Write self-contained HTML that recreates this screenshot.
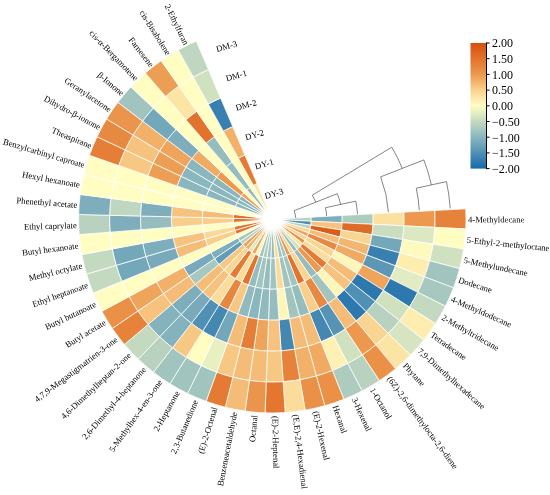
<!DOCTYPE html>
<html><head><meta charset="utf-8"><title>Circular heatmap</title>
<style>html,body{margin:0;padding:0;background:#fff}svg{display:block}</style>
</head><body>
<svg width="550" height="495" viewBox="0 0 550 495">
<rect width="550" height="495" fill="#fff"/>
<g stroke="#fff" stroke-width="0.75" stroke-linejoin="round">
<path d="M280.29 218.87L311.19 217.19A38.95 38.95 0 0 1 311.2 221.24L280.29 219.7A8 8 0 0 0 280.29 218.87Z" fill="#b9d2c0"/>
<path d="M311.19 217.19L342.1 215.52A69.9 69.9 0 0 1 342.11 222.78L311.2 221.24A38.95 38.95 0 0 0 311.19 217.19Z" fill="#7eaebc"/>
<path d="M342.1 215.52L373 213.85A100.85 100.85 0 0 1 373.03 224.32L342.11 222.78A69.9 69.9 0 0 0 342.1 215.52Z" fill="#adcbbf"/>
<path d="M373 213.85L403.91 212.17A131.8 131.8 0 0 1 403.94 225.86L373.03 224.32A100.85 100.85 0 0 0 373 213.85Z" fill="#fce0a0"/>
<path d="M403.91 212.17L434.81 210.5A162.75 162.75 0 0 1 434.85 227.4L403.94 225.86A131.8 131.8 0 0 0 403.91 212.17Z" fill="#ec984e"/>
<path d="M434.81 210.5L465.72 208.82A193.7 193.7 0 0 1 465.76 228.94L434.85 227.4A162.75 162.75 0 0 0 434.81 210.5Z" fill="#e6823a"/>
<path d="M280.29 219.7L311.2 221.24A38.95 38.95 0 0 1 310.79 225.26L280.21 220.52A8 8 0 0 0 280.29 219.7Z" fill="#5090b4"/>
<path d="M311.2 221.24L342.11 222.78A69.9 69.9 0 0 1 341.38 230L310.79 225.26A38.95 38.95 0 0 0 311.2 221.24Z" fill="#f6c27d"/>
<path d="M342.11 222.78L373.03 224.32A100.85 100.85 0 0 1 371.96 234.74L341.38 230A69.9 69.9 0 0 0 342.11 222.78Z" fill="#df6c26"/>
<path d="M373.03 224.32L403.94 225.86A131.8 131.8 0 0 1 402.55 239.47L371.96 234.74A100.85 100.85 0 0 0 373.03 224.32Z" fill="#caddc0"/>
<path d="M403.94 225.86L434.85 227.4A162.75 162.75 0 0 1 433.13 244.21L402.55 239.47A131.8 131.8 0 0 0 403.94 225.86Z" fill="#dce8c1"/>
<path d="M434.85 227.4L465.76 228.94A193.7 193.7 0 0 1 463.72 248.95L433.13 244.21A162.75 162.75 0 0 0 434.85 227.4Z" fill="#fffdc2"/>
<path d="M280.21 220.52L310.79 225.26A38.95 38.95 0 0 1 309.97 229.22L280.04 221.34A8 8 0 0 0 280.21 220.52Z" fill="#b9d2c0"/>
<path d="M310.79 225.26L341.38 230A69.9 69.9 0 0 1 339.89 237.11L309.97 229.22A38.95 38.95 0 0 0 310.79 225.26Z" fill="#db5d19"/>
<path d="M341.38 230L371.96 234.74A100.85 100.85 0 0 1 369.82 244.99L339.89 237.11A69.9 69.9 0 0 0 341.38 230Z" fill="#fad491"/>
<path d="M371.96 234.74L402.55 239.47A131.8 131.8 0 0 1 399.75 252.87L369.82 244.99A100.85 100.85 0 0 0 371.96 234.74Z" fill="#73a7ba"/>
<path d="M402.55 239.47L433.13 244.21A162.75 162.75 0 0 1 429.68 260.76L399.75 252.87A131.8 131.8 0 0 0 402.55 239.47Z" fill="#fef9bd"/>
<path d="M433.13 244.21L463.72 248.95A193.7 193.7 0 0 1 459.61 268.64L429.68 260.76A162.75 162.75 0 0 0 433.13 244.21Z" fill="#d0e1c0"/>
<path d="M280.04 221.34L309.97 229.22A38.95 38.95 0 0 1 308.73 233.07L279.78 222.13A8 8 0 0 0 280.04 221.34Z" fill="#fad491"/>
<path d="M309.97 229.22L339.89 237.11A69.9 69.9 0 0 1 337.68 244.02L308.73 233.07A38.95 38.95 0 0 0 309.97 229.22Z" fill="#f4bc76"/>
<path d="M339.89 237.11L369.82 244.99A100.85 100.85 0 0 1 366.63 254.96L337.68 244.02A69.9 69.9 0 0 0 339.89 237.11Z" fill="#f3b670"/>
<path d="M369.82 244.99L399.75 252.87A131.8 131.8 0 0 1 395.58 265.91L366.63 254.96A100.85 100.85 0 0 0 369.82 244.99Z" fill="#3980b0"/>
<path d="M399.75 252.87L429.68 260.76A162.75 162.75 0 0 1 424.53 276.85L395.58 265.91A131.8 131.8 0 0 0 399.75 252.87Z" fill="#fdedae"/>
<path d="M429.68 260.76L459.61 268.64A193.7 193.7 0 0 1 453.48 287.8L424.53 276.85A162.75 162.75 0 0 0 429.68 260.76Z" fill="#a1c4bf"/>
<path d="M279.78 222.13L308.73 233.07A38.95 38.95 0 0 1 307.11 236.78L279.45 222.89A8 8 0 0 0 279.78 222.13Z" fill="#efa45b"/>
<path d="M308.73 233.07L337.68 244.02A69.9 69.9 0 0 1 334.77 250.67L307.11 236.78A38.95 38.95 0 0 0 308.73 233.07Z" fill="#e88941"/>
<path d="M337.68 244.02L366.63 254.96A100.85 100.85 0 0 1 362.43 264.55L334.77 250.67A69.9 69.9 0 0 0 337.68 244.02Z" fill="#f0aa62"/>
<path d="M366.63 254.96L395.58 265.91A131.8 131.8 0 0 1 390.09 278.44L362.43 264.55A100.85 100.85 0 0 0 366.63 254.96Z" fill="#5c97b6"/>
<path d="M395.58 265.91L424.53 276.85A162.75 162.75 0 0 1 417.74 292.33L390.09 278.44A131.8 131.8 0 0 0 395.58 265.91Z" fill="#e2ebc1"/>
<path d="M424.53 276.85L453.48 287.8A193.7 193.7 0 0 1 445.4 306.22L417.74 292.33A162.75 162.75 0 0 0 424.53 276.85Z" fill="#a7c8bf"/>
<path d="M279.45 222.89L307.11 236.78A38.95 38.95 0 0 1 305.11 240.29L279.04 223.61A8 8 0 0 0 279.45 222.89Z" fill="#fad491"/>
<path d="M307.11 236.78L334.77 250.67A69.9 69.9 0 0 1 331.18 256.97L305.11 240.29A38.95 38.95 0 0 0 307.11 236.78Z" fill="#fad491"/>
<path d="M334.77 250.67L362.43 264.55A100.85 100.85 0 0 1 357.25 273.66L331.18 256.97A69.9 69.9 0 0 0 334.77 250.67Z" fill="#fef5b8"/>
<path d="M362.43 264.55L390.09 278.44A131.8 131.8 0 0 1 383.32 290.34L357.25 273.66A100.85 100.85 0 0 0 362.43 264.55Z" fill="#efa45b"/>
<path d="M390.09 278.44L417.74 292.33A162.75 162.75 0 0 1 409.39 307.02L383.32 290.34A131.8 131.8 0 0 0 390.09 278.44Z" fill="#2d78ae"/>
<path d="M417.74 292.33L445.4 306.22A193.7 193.7 0 0 1 435.46 323.7L409.39 307.02A162.75 162.75 0 0 0 417.74 292.33Z" fill="#c4dac0"/>
<path d="M279.04 223.61L305.11 240.29A38.95 38.95 0 0 1 302.75 243.58L278.56 224.29A8 8 0 0 0 279.04 223.61Z" fill="#ea9147"/>
<path d="M305.11 240.29L331.18 256.97A69.9 69.9 0 0 1 326.95 262.88L302.75 243.58A38.95 38.95 0 0 0 305.11 240.29Z" fill="#fbdc9b"/>
<path d="M331.18 256.97L357.25 273.66A100.85 100.85 0 0 1 351.15 282.17L326.95 262.88A69.9 69.9 0 0 0 331.18 256.97Z" fill="#f4bc76"/>
<path d="M357.25 273.66L383.32 290.34A131.8 131.8 0 0 1 375.35 301.47L351.15 282.17A100.85 100.85 0 0 0 357.25 273.66Z" fill="#2d78ae"/>
<path d="M383.32 290.34L409.39 307.02A162.75 162.75 0 0 1 399.55 320.76L375.35 301.47A131.8 131.8 0 0 0 383.32 290.34Z" fill="#d0e1c0"/>
<path d="M409.39 307.02L435.46 323.7A193.7 193.7 0 0 1 423.75 340.06L399.55 320.76A162.75 162.75 0 0 0 409.39 307.02Z" fill="#fdedae"/>
<path d="M278.56 224.29L302.75 243.58A38.95 38.95 0 0 1 300.07 246.61L278 224.91A8 8 0 0 0 278.56 224.29Z" fill="#fce4a5"/>
<path d="M302.75 243.58L326.95 262.88A69.9 69.9 0 0 1 322.14 268.31L300.07 246.61A38.95 38.95 0 0 0 302.75 243.58Z" fill="#e47a34"/>
<path d="M326.95 262.88L351.15 282.17A100.85 100.85 0 0 1 344.21 290.01L322.14 268.31A69.9 69.9 0 0 0 326.95 262.88Z" fill="#f6c27d"/>
<path d="M351.15 282.17L375.35 301.47A131.8 131.8 0 0 1 366.28 311.71L344.21 290.01A100.85 100.85 0 0 0 351.15 282.17Z" fill="#5090b4"/>
<path d="M375.35 301.47L399.55 320.76A162.75 162.75 0 0 1 388.34 333.41L366.28 311.71A131.8 131.8 0 0 0 375.35 301.47Z" fill="#b9d2c0"/>
<path d="M399.55 320.76L423.75 340.06A193.7 193.7 0 0 1 410.41 355.11L388.34 333.41A162.75 162.75 0 0 0 399.55 320.76Z" fill="#d6e4c1"/>
<path d="M278 224.91L300.07 246.61A38.95 38.95 0 0 1 297.09 249.34L277.39 225.47A8 8 0 0 0 278 224.91Z" fill="#d0e1c0"/>
<path d="M300.07 246.61L322.14 268.31A69.9 69.9 0 0 1 316.79 273.21L297.09 249.34A38.95 38.95 0 0 0 300.07 246.61Z" fill="#ec984e"/>
<path d="M322.14 268.31L344.21 290.01A100.85 100.85 0 0 1 336.49 297.09L316.79 273.21A69.9 69.9 0 0 0 322.14 268.31Z" fill="#fef5b8"/>
<path d="M344.21 290.01L366.28 311.71A131.8 131.8 0 0 1 356.19 320.96L336.49 297.09A100.85 100.85 0 0 0 344.21 290.01Z" fill="#2d78ae"/>
<path d="M366.28 311.71L388.34 333.41A162.75 162.75 0 0 1 375.88 344.83L356.19 320.96A131.8 131.8 0 0 0 366.28 311.71Z" fill="#fad491"/>
<path d="M388.34 333.41L410.41 355.11A193.7 193.7 0 0 1 395.58 368.7L375.88 344.83A162.75 162.75 0 0 0 388.34 333.41Z" fill="#fce4a5"/>
<path d="M277.39 225.47L297.09 249.34A38.95 38.95 0 0 1 293.84 251.75L276.72 225.97A8 8 0 0 0 277.39 225.47Z" fill="#96bdbe"/>
<path d="M297.09 249.34L316.79 273.21A69.9 69.9 0 0 1 310.96 277.54L293.84 251.75A38.95 38.95 0 0 0 297.09 249.34Z" fill="#96bdbe"/>
<path d="M316.79 273.21L336.49 297.09A100.85 100.85 0 0 1 328.07 303.32L310.96 277.54A69.9 69.9 0 0 0 316.79 273.21Z" fill="#a1c4bf"/>
<path d="M336.49 297.09L356.19 320.96A131.8 131.8 0 0 1 345.19 329.11L328.07 303.32A100.85 100.85 0 0 0 336.49 297.09Z" fill="#f4bc76"/>
<path d="M356.19 320.96L375.88 344.83A162.75 162.75 0 0 1 362.31 354.9L345.19 329.11A131.8 131.8 0 0 0 356.19 320.96Z" fill="#ec984e"/>
<path d="M375.88 344.83L395.58 368.7A193.7 193.7 0 0 1 379.42 380.68L362.31 354.9A162.75 162.75 0 0 0 375.88 344.83Z" fill="#ea9147"/>
<path d="M276.72 225.97L293.84 251.75A38.95 38.95 0 0 1 290.36 253.81L276.01 226.39A8 8 0 0 0 276.72 225.97Z" fill="#fad491"/>
<path d="M293.84 251.75L310.96 277.54A69.9 69.9 0 0 1 304.71 281.23L290.36 253.81A38.95 38.95 0 0 0 293.84 251.75Z" fill="#fad491"/>
<path d="M310.96 277.54L328.07 303.32A100.85 100.85 0 0 1 319.06 308.65L304.71 281.23A69.9 69.9 0 0 0 310.96 277.54Z" fill="#e88941"/>
<path d="M328.07 303.32L345.19 329.11A131.8 131.8 0 0 1 333.41 336.08L319.06 308.65A100.85 100.85 0 0 0 328.07 303.32Z" fill="#5693b5"/>
<path d="M345.19 329.11L362.31 354.9A162.75 162.75 0 0 1 347.76 363.5L333.41 336.08A131.8 131.8 0 0 0 345.19 329.11Z" fill="#d0e1c0"/>
<path d="M362.31 354.9L379.42 380.68A193.7 193.7 0 0 1 362.11 390.92L347.76 363.5A162.75 162.75 0 0 0 362.31 354.9Z" fill="#b9d2c0"/>
<path d="M276.01 226.39L290.36 253.81A38.95 38.95 0 0 1 286.68 255.5L275.25 226.73A8 8 0 0 0 276.01 226.39Z" fill="#ec984e"/>
<path d="M290.36 253.81L304.71 281.23A69.9 69.9 0 0 1 298.11 284.26L286.68 255.5A38.95 38.95 0 0 0 290.36 253.81Z" fill="#e2732d"/>
<path d="M304.71 281.23L319.06 308.65A100.85 100.85 0 0 1 309.54 313.02L298.11 284.26A69.9 69.9 0 0 0 304.71 281.23Z" fill="#f9ce8a"/>
<path d="M319.06 308.65L333.41 336.08A131.8 131.8 0 0 1 320.97 341.78L309.54 313.02A100.85 100.85 0 0 0 319.06 308.65Z" fill="#4488b2"/>
<path d="M333.41 336.08L347.76 363.5A162.75 162.75 0 0 1 332.4 370.55L320.97 341.78A131.8 131.8 0 0 0 333.41 336.08Z" fill="#fef1b3"/>
<path d="M347.76 363.5L362.11 390.92A193.7 193.7 0 0 1 343.83 399.31L332.4 370.55A162.75 162.75 0 0 0 347.76 363.5Z" fill="#adcbbf"/>
<path d="M275.25 226.73L286.68 255.5A38.95 38.95 0 0 1 282.85 256.79L274.47 227A8 8 0 0 0 275.25 226.73Z" fill="#a1c4bf"/>
<path d="M286.68 255.5L298.11 284.26A69.9 69.9 0 0 1 291.24 286.59L282.85 256.79A38.95 38.95 0 0 0 286.68 255.5Z" fill="#a1c4bf"/>
<path d="M298.11 284.26L309.54 313.02A100.85 100.85 0 0 1 299.62 316.38L291.24 286.59A69.9 69.9 0 0 0 298.11 284.26Z" fill="#96bdbe"/>
<path d="M309.54 313.02L320.97 341.78A131.8 131.8 0 0 1 308.01 346.17L299.62 316.38A100.85 100.85 0 0 0 309.54 313.02Z" fill="#f4bc76"/>
<path d="M320.97 341.78L332.4 370.55A162.75 162.75 0 0 1 316.39 375.96L308.01 346.17A131.8 131.8 0 0 0 320.97 341.78Z" fill="#f0aa62"/>
<path d="M332.4 370.55L343.83 399.31A193.7 193.7 0 0 1 324.78 405.76L316.39 375.96A162.75 162.75 0 0 0 332.4 370.55Z" fill="#ea9147"/>
<path d="M274.47 227L282.85 256.79A38.95 38.95 0 0 1 278.91 257.69L273.66 227.18A8 8 0 0 0 274.47 227Z" fill="#a1c4bf"/>
<path d="M282.85 256.79L291.24 286.59A69.9 69.9 0 0 1 284.16 288.19L278.91 257.69A38.95 38.95 0 0 0 282.85 256.79Z" fill="#a1c4bf"/>
<path d="M291.24 286.59L299.62 316.38A100.85 100.85 0 0 1 289.41 318.69L284.16 288.19A69.9 69.9 0 0 0 291.24 286.59Z" fill="#a1c4bf"/>
<path d="M299.62 316.38L308.01 346.17A131.8 131.8 0 0 1 294.66 349.19L289.41 318.69A100.85 100.85 0 0 0 299.62 316.38Z" fill="#f4bc76"/>
<path d="M308.01 346.17L316.39 375.96A162.75 162.75 0 0 1 299.91 379.69L294.66 349.19A131.8 131.8 0 0 0 308.01 346.17Z" fill="#f2b069"/>
<path d="M316.39 375.96L324.78 405.76A193.7 193.7 0 0 1 305.16 410.19L299.91 379.69A162.75 162.75 0 0 0 316.39 375.96Z" fill="#ea9147"/>
<path d="M273.66 227.18L278.91 257.69A38.95 38.95 0 0 1 274.89 258.16L272.83 227.28A8 8 0 0 0 273.66 227.18Z" fill="#fbdc9b"/>
<path d="M278.91 257.69L284.16 288.19A69.9 69.9 0 0 1 276.95 289.05L274.89 258.16A38.95 38.95 0 0 0 278.91 257.69Z" fill="#fbdc9b"/>
<path d="M284.16 288.19L289.41 318.69A100.85 100.85 0 0 1 279.01 319.93L276.95 289.05A69.9 69.9 0 0 0 284.16 288.19Z" fill="#fef5b8"/>
<path d="M289.41 318.69L294.66 349.19A131.8 131.8 0 0 1 281.07 350.81L279.01 319.93A100.85 100.85 0 0 0 289.41 318.69Z" fill="#4488b2"/>
<path d="M294.66 349.19L299.91 379.69A162.75 162.75 0 0 1 283.13 381.69L281.07 350.81A131.8 131.8 0 0 0 294.66 349.19Z" fill="#e6823a"/>
<path d="M299.91 379.69L305.16 410.19A193.7 193.7 0 0 1 285.19 412.57L283.13 381.69A162.75 162.75 0 0 0 299.91 379.69Z" fill="#fbdc9b"/>
<path d="M272.83 227.28L274.89 258.16A38.95 38.95 0 0 1 270.85 258.22L272 227.29A8 8 0 0 0 272.83 227.28Z" fill="#96bdbe"/>
<path d="M274.89 258.16L276.95 289.05A69.9 69.9 0 0 1 269.69 289.15L270.85 258.22A38.95 38.95 0 0 0 274.89 258.16Z" fill="#a1c4bf"/>
<path d="M276.95 289.05L279.01 319.93A100.85 100.85 0 0 1 268.54 320.08L269.69 289.15A69.9 69.9 0 0 0 276.95 289.05Z" fill="#96bdbe"/>
<path d="M279.01 319.93L281.07 350.81A131.8 131.8 0 0 1 267.38 351.01L268.54 320.08A100.85 100.85 0 0 0 279.01 319.93Z" fill="#f6c27d"/>
<path d="M281.07 350.81L283.13 381.69A162.75 162.75 0 0 1 266.23 381.94L267.38 351.01A131.8 131.8 0 0 0 281.07 350.81Z" fill="#f7c884"/>
<path d="M283.13 381.69L285.19 412.57A193.7 193.7 0 0 1 265.07 412.87L266.23 381.94A162.75 162.75 0 0 0 283.13 381.69Z" fill="#e37730"/>
<path d="M272 227.29L270.85 258.22A38.95 38.95 0 0 1 266.82 257.86L271.17 227.22A8 8 0 0 0 272 227.29Z" fill="#a1c4bf"/>
<path d="M270.85 258.22L269.69 289.15A69.9 69.9 0 0 1 262.46 288.5L266.82 257.86A38.95 38.95 0 0 0 270.85 258.22Z" fill="#96bdbe"/>
<path d="M269.69 289.15L268.54 320.08A100.85 100.85 0 0 1 258.11 319.15L262.46 288.5A69.9 69.9 0 0 0 269.69 289.15Z" fill="#90babe"/>
<path d="M268.54 320.08L267.38 351.01A131.8 131.8 0 0 1 253.75 349.79L258.11 319.15A100.85 100.85 0 0 0 268.54 320.08Z" fill="#efa45b"/>
<path d="M267.38 351.01L266.23 381.94A162.75 162.75 0 0 1 249.4 380.43L253.75 349.79A131.8 131.8 0 0 0 267.38 351.01Z" fill="#f4bc76"/>
<path d="M266.23 381.94L265.07 412.87A193.7 193.7 0 0 1 245.04 411.07L249.4 380.43A162.75 162.75 0 0 0 266.23 381.94Z" fill="#eb944b"/>
<path d="M271.17 227.22L266.82 257.86A38.95 38.95 0 0 1 262.85 257.09L270.36 227.06A8 8 0 0 0 271.17 227.22Z" fill="#adcbbf"/>
<path d="M266.82 257.86L262.46 288.5A69.9 69.9 0 0 1 255.34 287.11L262.85 257.09A38.95 38.95 0 0 0 266.82 257.86Z" fill="#a1c4bf"/>
<path d="M262.46 288.5L258.11 319.15A100.85 100.85 0 0 1 247.83 317.14L255.34 287.11A69.9 69.9 0 0 0 262.46 288.5Z" fill="#8ab6be"/>
<path d="M258.11 319.15L253.75 349.79A131.8 131.8 0 0 1 240.32 347.16L247.83 317.14A100.85 100.85 0 0 0 258.11 319.15Z" fill="#e57e37"/>
<path d="M253.75 349.79L249.4 380.43A162.75 162.75 0 0 1 232.81 377.19L240.32 347.16A131.8 131.8 0 0 0 253.75 349.79Z" fill="#f4bc76"/>
<path d="M249.4 380.43L245.04 411.07A193.7 193.7 0 0 1 225.3 407.21L232.81 377.19A162.75 162.75 0 0 0 249.4 380.43Z" fill="#f4bc76"/>
<path d="M270.36 227.06L262.85 257.09A38.95 38.95 0 0 1 258.98 255.9L269.56 226.82A8 8 0 0 0 270.36 227.06Z" fill="#a1c4bf"/>
<path d="M262.85 257.09L255.34 287.11A69.9 69.9 0 0 1 248.4 284.99L258.98 255.9A38.95 38.95 0 0 0 262.85 257.09Z" fill="#96bdbe"/>
<path d="M255.34 287.11L247.83 317.14A100.85 100.85 0 0 1 237.82 314.07L248.4 284.99A69.9 69.9 0 0 0 255.34 287.11Z" fill="#90babe"/>
<path d="M247.83 317.14L240.32 347.16A131.8 131.8 0 0 1 227.23 343.16L237.82 314.07A100.85 100.85 0 0 0 247.83 317.14Z" fill="#f4bc76"/>
<path d="M240.32 347.16L232.81 377.19A162.75 162.75 0 0 1 216.65 372.24L227.23 343.16A131.8 131.8 0 0 0 240.32 347.16Z" fill="#f7c884"/>
<path d="M232.81 377.19L225.3 407.21A193.7 193.7 0 0 1 206.07 401.32L216.65 372.24A162.75 162.75 0 0 0 232.81 377.19Z" fill="#e47a34"/>
<path d="M269.56 226.82L258.98 255.9A38.95 38.95 0 0 1 255.26 254.32L268.8 226.49A8 8 0 0 0 269.56 226.82Z" fill="#fef5b8"/>
<path d="M258.98 255.9L248.4 284.99A69.9 69.9 0 0 1 241.72 282.15L255.26 254.32A38.95 38.95 0 0 0 258.98 255.9Z" fill="#e2732d"/>
<path d="M248.4 284.99L237.82 314.07A100.85 100.85 0 0 1 228.17 309.98L241.72 282.15A69.9 69.9 0 0 0 248.4 284.99Z" fill="#f7c884"/>
<path d="M237.82 314.07L227.23 343.16A131.8 131.8 0 0 1 214.63 337.81L228.17 309.98A100.85 100.85 0 0 0 237.82 314.07Z" fill="#73a7ba"/>
<path d="M227.23 343.16L216.65 372.24A162.75 162.75 0 0 1 201.09 365.64L214.63 337.81A131.8 131.8 0 0 0 227.23 343.16Z" fill="#e8efc1"/>
<path d="M216.65 372.24L206.07 401.32A193.7 193.7 0 0 1 187.55 393.47L201.09 365.64A162.75 162.75 0 0 0 216.65 372.24Z" fill="#a1c4bf"/>
<path d="M268.8 226.49L255.26 254.32A38.95 38.95 0 0 1 251.72 252.37L268.07 226.09A8 8 0 0 0 268.8 226.49Z" fill="#efa45b"/>
<path d="M255.26 254.32L241.72 282.15A69.9 69.9 0 0 1 235.36 278.64L251.72 252.37A38.95 38.95 0 0 0 255.26 254.32Z" fill="#fbdc9b"/>
<path d="M241.72 282.15L228.17 309.98A100.85 100.85 0 0 1 219.01 304.92L235.36 278.64A69.9 69.9 0 0 0 241.72 282.15Z" fill="#e7863e"/>
<path d="M228.17 309.98L214.63 337.81A131.8 131.8 0 0 1 202.65 331.19L219.01 304.92A100.85 100.85 0 0 0 228.17 309.98Z" fill="#4488b2"/>
<path d="M214.63 337.81L201.09 365.64A162.75 162.75 0 0 1 186.3 357.47L202.65 331.19A131.8 131.8 0 0 0 214.63 337.81Z" fill="#fffdc2"/>
<path d="M201.09 365.64L187.55 393.47A193.7 193.7 0 0 1 169.94 383.75L186.3 357.47A162.75 162.75 0 0 0 201.09 365.64Z" fill="#a1c4bf"/>
<path d="M268.07 226.09L251.72 252.37A38.95 38.95 0 0 1 248.4 250.05L267.39 225.62A8 8 0 0 0 268.07 226.09Z" fill="#dce8c1"/>
<path d="M251.72 252.37L235.36 278.64A69.9 69.9 0 0 1 229.41 274.49L248.4 250.05A38.95 38.95 0 0 0 251.72 252.37Z" fill="#e47a34"/>
<path d="M235.36 278.64L219.01 304.92A100.85 100.85 0 0 1 210.42 298.93L229.41 274.49A69.9 69.9 0 0 0 235.36 278.64Z" fill="#fbdc9b"/>
<path d="M219.01 304.92L202.65 331.19A131.8 131.8 0 0 1 191.42 323.37L210.42 298.93A100.85 100.85 0 0 0 219.01 304.92Z" fill="#5090b4"/>
<path d="M202.65 331.19L186.3 357.47A162.75 162.75 0 0 1 172.43 347.81L191.42 323.37A131.8 131.8 0 0 0 202.65 331.19Z" fill="#f7c884"/>
<path d="M186.3 357.47L169.94 383.75A193.7 193.7 0 0 1 153.44 372.24L172.43 347.81A162.75 162.75 0 0 0 186.3 357.47Z" fill="#a1c4bf"/>
<path d="M267.39 225.62L248.4 250.05A38.95 38.95 0 0 1 245.34 247.41L266.76 225.07A8 8 0 0 0 267.39 225.62Z" fill="#f2b069"/>
<path d="M248.4 250.05L229.41 274.49A69.9 69.9 0 0 1 223.91 269.75L245.34 247.41A38.95 38.95 0 0 0 248.4 250.05Z" fill="#fad491"/>
<path d="M229.41 274.49L210.42 298.93A100.85 100.85 0 0 1 202.49 292.08L223.91 269.75A69.9 69.9 0 0 0 229.41 274.49Z" fill="#f6c27d"/>
<path d="M210.42 298.93L191.42 323.37A131.8 131.8 0 0 1 181.07 314.42L202.49 292.08A100.85 100.85 0 0 0 210.42 298.93Z" fill="#79aabb"/>
<path d="M191.42 323.37L172.43 347.81A162.75 162.75 0 0 1 159.64 336.76L181.07 314.42A131.8 131.8 0 0 0 191.42 323.37Z" fill="#84b2bd"/>
<path d="M172.43 347.81L153.44 372.24A193.7 193.7 0 0 1 138.22 359.09L159.64 336.76A162.75 162.75 0 0 0 172.43 347.81Z" fill="#b9d2c0"/>
<path d="M266.76 225.07L245.34 247.41A38.95 38.95 0 0 1 242.57 244.46L266.19 224.47A8 8 0 0 0 266.76 225.07Z" fill="#efa45b"/>
<path d="M245.34 247.41L223.91 269.75A69.9 69.9 0 0 1 218.94 264.46L242.57 244.46A38.95 38.95 0 0 0 245.34 247.41Z" fill="#f7c884"/>
<path d="M223.91 269.75L202.49 292.08A100.85 100.85 0 0 1 195.32 284.45L218.94 264.46A69.9 69.9 0 0 0 223.91 269.75Z" fill="#f4bc76"/>
<path d="M202.49 292.08L181.07 314.42A131.8 131.8 0 0 1 171.7 304.45L195.32 284.45A100.85 100.85 0 0 0 202.49 292.08Z" fill="#7eaebc"/>
<path d="M181.07 314.42L159.64 336.76A162.75 162.75 0 0 1 148.07 324.44L171.7 304.45A131.8 131.8 0 0 0 181.07 314.42Z" fill="#84b2bd"/>
<path d="M159.64 336.76L138.22 359.09A193.7 193.7 0 0 1 124.45 344.44L148.07 324.44A162.75 162.75 0 0 0 159.64 336.76Z" fill="#c4dac0"/>
<path d="M266.19 224.47L242.57 244.46A38.95 38.95 0 0 1 240.12 241.24L265.69 223.81A8 8 0 0 0 266.19 224.47Z" fill="#b9d2c0"/>
<path d="M242.57 244.46L218.94 264.46A69.9 69.9 0 0 1 214.55 258.68L240.12 241.24A38.95 38.95 0 0 0 242.57 244.46Z" fill="#619bb7"/>
<path d="M218.94 264.46L195.32 284.45A100.85 100.85 0 0 1 188.98 276.12L214.55 258.68A69.9 69.9 0 0 0 218.94 264.46Z" fill="#a7c8bf"/>
<path d="M195.32 284.45L171.7 304.45A131.8 131.8 0 0 1 163.41 293.55L188.98 276.12A100.85 100.85 0 0 0 195.32 284.45Z" fill="#f4bc76"/>
<path d="M171.7 304.45L148.07 324.44A162.75 162.75 0 0 1 137.84 310.99L163.41 293.55A131.8 131.8 0 0 0 171.7 304.45Z" fill="#f6c27d"/>
<path d="M148.07 324.44L124.45 344.44A193.7 193.7 0 0 1 112.27 328.43L137.84 310.99A162.75 162.75 0 0 0 148.07 324.44Z" fill="#e6823a"/>
<path d="M265.69 223.81L240.12 241.24A38.95 38.95 0 0 1 238.02 237.79L265.26 223.1A8 8 0 0 0 265.69 223.81Z" fill="#a1c4bf"/>
<path d="M240.12 241.24L214.55 258.68A69.9 69.9 0 0 1 210.78 252.48L238.02 237.79A38.95 38.95 0 0 0 240.12 241.24Z" fill="#7eaebc"/>
<path d="M214.55 258.68L188.98 276.12A100.85 100.85 0 0 1 183.54 267.17L210.78 252.48A69.9 69.9 0 0 0 214.55 258.68Z" fill="#79aabb"/>
<path d="M188.98 276.12L163.41 293.55A131.8 131.8 0 0 1 156.29 281.86L183.54 267.17A100.85 100.85 0 0 0 188.98 276.12Z" fill="#f2b069"/>
<path d="M163.41 293.55L137.84 310.99A162.75 162.75 0 0 1 129.05 296.55L156.29 281.86A131.8 131.8 0 0 0 163.41 293.55Z" fill="#efa45b"/>
<path d="M137.84 310.99L112.27 328.43A193.7 193.7 0 0 1 101.81 311.24L129.05 296.55A162.75 162.75 0 0 0 137.84 310.99Z" fill="#ea9147"/>
<path d="M265.26 223.1L238.02 237.79A38.95 38.95 0 0 1 236.29 234.13L264.9 222.35A8 8 0 0 0 265.26 223.1Z" fill="#fffdc2"/>
<path d="M238.02 237.79L210.78 252.48A69.9 69.9 0 0 1 207.67 245.92L236.29 234.13A38.95 38.95 0 0 0 238.02 237.79Z" fill="#fffdc2"/>
<path d="M210.78 252.48L183.54 267.17A100.85 100.85 0 0 1 179.05 257.71L207.67 245.92A69.9 69.9 0 0 0 210.78 252.48Z" fill="#fffdc2"/>
<path d="M183.54 267.17L156.29 281.86A131.8 131.8 0 0 1 150.43 269.49L179.05 257.71A100.85 100.85 0 0 0 183.54 267.17Z" fill="#fffdc2"/>
<path d="M156.29 281.86L129.05 296.55A162.75 162.75 0 0 1 121.81 281.28L150.43 269.49A131.8 131.8 0 0 0 156.29 281.86Z" fill="#fffdc2"/>
<path d="M129.05 296.55L101.81 311.24A193.7 193.7 0 0 1 93.2 293.07L121.81 281.28A162.75 162.75 0 0 0 129.05 296.55Z" fill="#fffdc2"/>
<path d="M264.9 222.35L236.29 234.13A38.95 38.95 0 0 1 234.94 230.32L264.63 221.56A8 8 0 0 0 264.9 222.35Z" fill="#e2732d"/>
<path d="M236.29 234.13L207.67 245.92A69.9 69.9 0 0 1 205.26 239.07L234.94 230.32A38.95 38.95 0 0 0 236.29 234.13Z" fill="#f9ce8a"/>
<path d="M207.67 245.92L179.05 257.71A100.85 100.85 0 0 1 175.57 247.83L205.26 239.07A69.9 69.9 0 0 0 207.67 245.92Z" fill="#f4bc76"/>
<path d="M179.05 257.71L150.43 269.49A131.8 131.8 0 0 1 145.88 256.59L175.57 247.83A100.85 100.85 0 0 0 179.05 257.71Z" fill="#79aabb"/>
<path d="M150.43 269.49L121.81 281.28A162.75 162.75 0 0 1 116.2 265.34L145.88 256.59A131.8 131.8 0 0 0 150.43 269.49Z" fill="#73a7ba"/>
<path d="M121.81 281.28L93.2 293.07A193.7 193.7 0 0 1 86.51 274.1L116.2 265.34A162.75 162.75 0 0 0 121.81 281.28Z" fill="#c4dac0"/>
<path d="M264.63 221.56L234.94 230.32A38.95 38.95 0 0 1 234 226.39L264.43 220.76A8 8 0 0 0 264.63 221.56Z" fill="#e2732d"/>
<path d="M234.94 230.32L205.26 239.07A69.9 69.9 0 0 1 203.57 232.02L234 226.39A38.95 38.95 0 0 0 234.94 230.32Z" fill="#fad896"/>
<path d="M205.26 239.07L175.57 247.83A100.85 100.85 0 0 1 173.13 237.65L203.57 232.02A69.9 69.9 0 0 0 205.26 239.07Z" fill="#f6c27d"/>
<path d="M175.57 247.83L145.88 256.59A131.8 131.8 0 0 1 142.7 243.28L173.13 237.65A100.85 100.85 0 0 0 175.57 247.83Z" fill="#7eaebc"/>
<path d="M145.88 256.59L116.2 265.34A162.75 162.75 0 0 1 112.27 248.91L142.7 243.28A131.8 131.8 0 0 0 145.88 256.59Z" fill="#73a7ba"/>
<path d="M116.2 265.34L86.51 274.1A193.7 193.7 0 0 1 81.83 254.54L112.27 248.91A162.75 162.75 0 0 0 116.2 265.34Z" fill="#c4dac0"/>
<path d="M264.43 220.76L234 226.39A38.95 38.95 0 0 1 233.47 222.38L264.32 219.93A8 8 0 0 0 264.43 220.76Z" fill="#fffdc2"/>
<path d="M234 226.39L203.57 232.02A69.9 69.9 0 0 1 202.62 224.82L233.47 222.38A38.95 38.95 0 0 0 234 226.39Z" fill="#fffdc2"/>
<path d="M203.57 232.02L173.13 237.65A100.85 100.85 0 0 1 171.76 227.26L202.62 224.82A69.9 69.9 0 0 0 203.57 232.02Z" fill="#fffdc2"/>
<path d="M173.13 237.65L142.7 243.28A131.8 131.8 0 0 1 140.91 229.71L171.76 227.26A100.85 100.85 0 0 0 173.13 237.65Z" fill="#fffdc2"/>
<path d="M142.7 243.28L112.27 248.91A162.75 162.75 0 0 1 110.06 232.15L140.91 229.71A131.8 131.8 0 0 0 142.7 243.28Z" fill="#fffdc2"/>
<path d="M112.27 248.91L81.83 254.54A193.7 193.7 0 0 1 79.2 234.59L110.06 232.15A162.75 162.75 0 0 0 112.27 248.91Z" fill="#fffdc2"/>
<path d="M264.32 219.93L233.47 222.38A38.95 38.95 0 0 1 233.36 218.33L264.3 219.1A8 8 0 0 0 264.32 219.93Z" fill="#e2732d"/>
<path d="M233.47 222.38L202.62 224.82A69.9 69.9 0 0 1 202.42 217.56L233.36 218.33A38.95 38.95 0 0 0 233.47 222.38Z" fill="#f9ce8a"/>
<path d="M202.62 224.82L171.76 227.26A100.85 100.85 0 0 1 171.48 216.79L202.42 217.56A69.9 69.9 0 0 0 202.62 224.82Z" fill="#f9ce8a"/>
<path d="M171.76 227.26L140.91 229.71A131.8 131.8 0 0 1 140.54 216.03L171.48 216.79A100.85 100.85 0 0 0 171.76 227.26Z" fill="#96bdbe"/>
<path d="M140.91 229.71L110.06 232.15A162.75 162.75 0 0 1 109.6 215.26L140.54 216.03A131.8 131.8 0 0 0 140.91 229.71Z" fill="#7eaebc"/>
<path d="M110.06 232.15L79.2 234.59A193.7 193.7 0 0 1 78.66 214.49L109.6 215.26A162.75 162.75 0 0 0 110.06 232.15Z" fill="#b9d2c0"/>
<path d="M264.3 219.1L233.36 218.33A38.95 38.95 0 0 1 233.67 214.3L264.37 218.27A8 8 0 0 0 264.3 219.1Z" fill="#e2732d"/>
<path d="M233.36 218.33L202.42 217.56A69.9 69.9 0 0 1 202.98 210.33L233.67 214.3A38.95 38.95 0 0 0 233.36 218.33Z" fill="#f4bc76"/>
<path d="M202.42 217.56L171.48 216.79A100.85 100.85 0 0 1 172.28 206.35L202.98 210.33A69.9 69.9 0 0 0 202.42 217.56Z" fill="#f6c27d"/>
<path d="M171.48 216.79L140.54 216.03A131.8 131.8 0 0 1 141.59 202.38L172.28 206.35A100.85 100.85 0 0 0 171.48 216.79Z" fill="#7eaebc"/>
<path d="M140.54 216.03L109.6 215.26A162.75 162.75 0 0 1 110.9 198.41L141.59 202.38A131.8 131.8 0 0 0 140.54 216.03Z" fill="#bfd6c0"/>
<path d="M109.6 215.26L78.66 214.49A193.7 193.7 0 0 1 80.2 194.43L110.9 198.41A162.75 162.75 0 0 0 109.6 215.26Z" fill="#7eaebc"/>
<path d="M264.37 218.27L233.67 214.3A38.95 38.95 0 0 1 234.4 210.32L264.52 217.46A8 8 0 0 0 264.37 218.27Z" fill="#fffdc2"/>
<path d="M233.67 214.3L202.98 210.33A69.9 69.9 0 0 1 204.28 203.19L234.4 210.32A38.95 38.95 0 0 0 233.67 214.3Z" fill="#fffdc2"/>
<path d="M202.98 210.33L172.28 206.35A100.85 100.85 0 0 1 174.17 196.05L204.28 203.19A69.9 69.9 0 0 0 202.98 210.33Z" fill="#fffdc2"/>
<path d="M172.28 206.35L141.59 202.38A131.8 131.8 0 0 1 144.05 188.92L174.17 196.05A100.85 100.85 0 0 0 172.28 206.35Z" fill="#fffdc2"/>
<path d="M141.59 202.38L110.9 198.41A162.75 162.75 0 0 1 113.93 181.78L144.05 188.92A131.8 131.8 0 0 0 141.59 202.38Z" fill="#fffdc2"/>
<path d="M110.9 198.41L80.2 194.43A193.7 193.7 0 0 1 83.82 174.65L113.93 181.78A162.75 162.75 0 0 0 110.9 198.41Z" fill="#fffdc2"/>
<path d="M264.52 217.46L234.4 210.32A38.95 38.95 0 0 1 235.53 206.44L264.75 216.66A8 8 0 0 0 264.52 217.46Z" fill="#fffdc2"/>
<path d="M234.4 210.32L204.28 203.19A69.9 69.9 0 0 1 206.32 196.22L235.53 206.44A38.95 38.95 0 0 0 234.4 210.32Z" fill="#fffdc2"/>
<path d="M204.28 203.19L174.17 196.05A100.85 100.85 0 0 1 177.11 186L206.32 196.22A69.9 69.9 0 0 0 204.28 203.19Z" fill="#fffdc2"/>
<path d="M174.17 196.05L144.05 188.92A131.8 131.8 0 0 1 147.89 175.78L177.11 186A100.85 100.85 0 0 0 174.17 196.05Z" fill="#fffdc2"/>
<path d="M144.05 188.92L113.93 181.78A162.75 162.75 0 0 1 118.68 165.56L147.89 175.78A131.8 131.8 0 0 0 144.05 188.92Z" fill="#fffdc2"/>
<path d="M113.93 181.78L83.82 174.65A193.7 193.7 0 0 1 89.46 155.34L118.68 165.56A162.75 162.75 0 0 0 113.93 181.78Z" fill="#fffdc2"/>
<path d="M264.75 216.66L235.53 206.44A38.95 38.95 0 0 1 237.07 202.7L265.06 215.89A8 8 0 0 0 264.75 216.66Z" fill="#8ab6be"/>
<path d="M235.53 206.44L206.32 196.22A69.9 69.9 0 0 1 209.07 189.5L237.07 202.7A38.95 38.95 0 0 0 235.53 206.44Z" fill="#8ab6be"/>
<path d="M206.32 196.22L177.11 186A100.85 100.85 0 0 1 181.07 176.31L209.07 189.5A69.9 69.9 0 0 0 206.32 196.22Z" fill="#8ab6be"/>
<path d="M177.11 186L147.89 175.78A131.8 131.8 0 0 1 153.08 163.11L181.07 176.31A100.85 100.85 0 0 0 177.11 186Z" fill="#ed9e55"/>
<path d="M147.89 175.78L118.68 165.56A162.75 162.75 0 0 1 125.08 149.92L153.08 163.11A131.8 131.8 0 0 0 147.89 175.78Z" fill="#f7c884"/>
<path d="M118.68 165.56L89.46 155.34A193.7 193.7 0 0 1 97.08 136.72L125.08 149.92A162.75 162.75 0 0 0 118.68 165.56Z" fill="#e57e37"/>
<path d="M265.06 215.89L237.07 202.7A38.95 38.95 0 0 1 238.98 199.13L265.46 215.16A8 8 0 0 0 265.06 215.89Z" fill="#8ab6be"/>
<path d="M237.07 202.7L209.07 189.5A69.9 69.9 0 0 1 212.5 183.1L238.98 199.13A38.95 38.95 0 0 0 237.07 202.7Z" fill="#8ab6be"/>
<path d="M209.07 189.5L181.07 176.31A100.85 100.85 0 0 1 186.02 167.08L212.5 183.1A69.9 69.9 0 0 0 209.07 189.5Z" fill="#8ab6be"/>
<path d="M181.07 176.31L153.08 163.11A131.8 131.8 0 0 1 159.55 151.05L186.02 167.08A100.85 100.85 0 0 0 181.07 176.31Z" fill="#ed9e55"/>
<path d="M153.08 163.11L125.08 149.92A162.75 162.75 0 0 1 133.07 135.03L159.55 151.05A131.8 131.8 0 0 0 153.08 163.11Z" fill="#f6c27d"/>
<path d="M125.08 149.92L97.08 136.72A193.7 193.7 0 0 1 106.59 119L133.07 135.03A162.75 162.75 0 0 0 125.08 149.92Z" fill="#e88941"/>
<path d="M265.46 215.16L238.98 199.13A38.95 38.95 0 0 1 241.25 195.78L265.92 214.47A8 8 0 0 0 265.46 215.16Z" fill="#8ab6be"/>
<path d="M238.98 199.13L212.5 183.1A69.9 69.9 0 0 1 216.58 177.1L241.25 195.78A38.95 38.95 0 0 0 238.98 199.13Z" fill="#8ab6be"/>
<path d="M212.5 183.1L186.02 167.08A100.85 100.85 0 0 1 191.9 158.41L216.58 177.1A69.9 69.9 0 0 0 212.5 183.1Z" fill="#8ab6be"/>
<path d="M186.02 167.08L159.55 151.05A131.8 131.8 0 0 1 167.23 139.73L191.9 158.41A100.85 100.85 0 0 0 186.02 167.08Z" fill="#efa45b"/>
<path d="M159.55 151.05L133.07 135.03A162.75 162.75 0 0 1 142.56 121.04L167.23 139.73A131.8 131.8 0 0 0 159.55 151.05Z" fill="#f2b069"/>
<path d="M133.07 135.03L106.59 119A193.7 193.7 0 0 1 117.89 102.36L142.56 121.04A162.75 162.75 0 0 0 133.07 135.03Z" fill="#eb944b"/>
<path d="M265.92 214.47L241.25 195.78A38.95 38.95 0 0 1 243.86 192.69L266.46 213.83A8 8 0 0 0 265.92 214.47Z" fill="#efa45b"/>
<path d="M241.25 195.78L216.58 177.1A69.9 69.9 0 0 1 221.25 171.55L243.86 192.69A38.95 38.95 0 0 0 241.25 195.78Z" fill="#ec984e"/>
<path d="M216.58 177.1L191.9 158.41A100.85 100.85 0 0 1 198.65 150.4L221.25 171.55A69.9 69.9 0 0 0 216.58 177.1Z" fill="#f0aa62"/>
<path d="M191.9 158.41L167.23 139.73A131.8 131.8 0 0 1 176.05 129.26L198.65 150.4A100.85 100.85 0 0 0 191.9 158.41Z" fill="#7eaebc"/>
<path d="M167.23 139.73L142.56 121.04A162.75 162.75 0 0 1 153.45 108.12L176.05 129.26A131.8 131.8 0 0 0 167.23 139.73Z" fill="#73a7ba"/>
<path d="M142.56 121.04L117.89 102.36A193.7 193.7 0 0 1 130.85 86.97L153.45 108.12A162.75 162.75 0 0 0 142.56 121.04Z" fill="#a1c4bf"/>
<path d="M266.46 213.83L243.86 192.69A38.95 38.95 0 0 1 246.77 189.88L267.06 213.26A8 8 0 0 0 266.46 213.83Z" fill="#fffdc2"/>
<path d="M243.86 192.69L221.25 171.55A69.9 69.9 0 0 1 226.48 166.51L246.77 189.88A38.95 38.95 0 0 0 243.86 192.69Z" fill="#fffdc2"/>
<path d="M221.25 171.55L198.65 150.4A100.85 100.85 0 0 1 206.19 143.14L226.48 166.51A69.9 69.9 0 0 0 221.25 171.55Z" fill="#fffdc2"/>
<path d="M198.65 150.4L176.05 129.26A131.8 131.8 0 0 1 185.91 119.76L206.19 143.14A100.85 100.85 0 0 0 198.65 150.4Z" fill="#fffdc2"/>
<path d="M176.05 129.26L153.45 108.12A162.75 162.75 0 0 1 165.62 96.39L185.91 119.76A131.8 131.8 0 0 0 176.05 129.26Z" fill="#fffdc2"/>
<path d="M153.45 108.12L130.85 86.97A193.7 193.7 0 0 1 145.33 73.02L165.62 96.39A162.75 162.75 0 0 0 153.45 108.12Z" fill="#fffdc2"/>
<path d="M267.06 213.26L246.77 189.88A38.95 38.95 0 0 1 249.96 187.4L267.71 212.75A8 8 0 0 0 267.06 213.26Z" fill="#96bdbe"/>
<path d="M246.77 189.88L226.48 166.51A69.9 69.9 0 0 1 232.2 162.04L249.96 187.4A38.95 38.95 0 0 0 246.77 189.88Z" fill="#96bdbe"/>
<path d="M226.48 166.51L206.19 143.14A100.85 100.85 0 0 1 214.45 136.69L232.2 162.04A69.9 69.9 0 0 0 226.48 166.51Z" fill="#96bdbe"/>
<path d="M206.19 143.14L185.91 119.76A131.8 131.8 0 0 1 196.69 111.34L214.45 136.69A100.85 100.85 0 0 0 206.19 143.14Z" fill="#e2732d"/>
<path d="M185.91 119.76L165.62 96.39A162.75 162.75 0 0 1 178.94 85.99L196.69 111.34A131.8 131.8 0 0 0 185.91 119.76Z" fill="#fce4a5"/>
<path d="M165.62 96.39L145.33 73.02A193.7 193.7 0 0 1 161.19 60.64L178.94 85.99A162.75 162.75 0 0 0 165.62 96.39Z" fill="#ed9e55"/>
<path d="M267.71 212.75L249.96 187.4A38.95 38.95 0 0 1 253.39 185.25L268.42 212.31A8 8 0 0 0 267.71 212.75Z" fill="#fffdc2"/>
<path d="M249.96 187.4L232.2 162.04A69.9 69.9 0 0 1 238.36 158.2L253.39 185.25A38.95 38.95 0 0 0 249.96 187.4Z" fill="#fffdc2"/>
<path d="M232.2 162.04L214.45 136.69A100.85 100.85 0 0 1 223.33 131.14L238.36 158.2A69.9 69.9 0 0 0 232.2 162.04Z" fill="#fffdc2"/>
<path d="M214.45 136.69L196.69 111.34A131.8 131.8 0 0 1 208.3 104.08L223.33 131.14A100.85 100.85 0 0 0 214.45 136.69Z" fill="#fffdc2"/>
<path d="M196.69 111.34L178.94 85.99A162.75 162.75 0 0 1 193.27 77.03L208.3 104.08A131.8 131.8 0 0 0 196.69 111.34Z" fill="#fffdc2"/>
<path d="M178.94 85.99L161.19 60.64A193.7 193.7 0 0 1 178.24 49.97L193.27 77.03A162.75 162.75 0 0 0 178.94 85.99Z" fill="#fffdc2"/>
<path d="M268.42 212.31L253.39 185.25A38.95 38.95 0 0 1 257.02 183.47L269.16 211.94A8 8 0 0 0 268.42 212.31Z" fill="#fce4a5"/>
<path d="M253.39 185.25L238.36 158.2A69.9 69.9 0 0 1 244.88 155L257.02 183.47A38.95 38.95 0 0 0 253.39 185.25Z" fill="#e47a34"/>
<path d="M238.36 158.2L223.33 131.14A100.85 100.85 0 0 1 232.73 126.54L244.88 155A69.9 69.9 0 0 0 238.36 158.2Z" fill="#f2b069"/>
<path d="M223.33 131.14L208.3 104.08A131.8 131.8 0 0 1 220.59 98.07L232.73 126.54A100.85 100.85 0 0 0 223.33 131.14Z" fill="#3980b0"/>
<path d="M208.3 104.08L193.27 77.03A162.75 162.75 0 0 1 208.45 69.6L220.59 98.07A131.8 131.8 0 0 0 208.3 104.08Z" fill="#d0e1c0"/>
<path d="M193.27 77.03L178.24 49.97A193.7 193.7 0 0 1 196.3 41.13L208.45 69.6A162.75 162.75 0 0 0 193.27 77.03Z" fill="#bfd6c0"/>
</g>
<defs><radialGradient id="hole" cx="0.5" cy="0.5" r="0.5"><stop offset="0" stop-color="#fff" stop-opacity="1"/><stop offset="0.5" stop-color="#fff" stop-opacity="1"/><stop offset="1" stop-color="#fff" stop-opacity="0"/></radialGradient></defs>
<circle cx="272.3" cy="219.3" r="17" fill="url(#hole)"/>
<g transform="translate(0 1)" font-family="'Liberation Serif', 'Times New Roman', serif" font-size="8.7" fill="#000">
<text transform="translate(467.9 218.88) rotate(-0.12)" dy="0.3em">4-Methyldecane</text>
<text transform="translate(466.89 239.16) rotate(5.83)" dy="0.3em">5-Ethyl-2-methyloctane</text>
<text transform="translate(463.78 259.24) rotate(11.78)" dy="0.3em">5-Methylundecane</text>
<text transform="translate(458.61 278.88) rotate(17.73)" dy="0.3em">Dodecane</text>
<text transform="translate(451.42 297.88) rotate(23.69)" dy="0.3em">4-Methyldodecane</text>
<text transform="translate(442.31 316.03) rotate(29.64)" dy="0.3em">2-Methyltridecane</text>
<text transform="translate(431.36 333.14) rotate(35.59)" dy="0.3em">Tetradecane</text>
<text transform="translate(418.7 349.02) rotate(41.54)" dy="0.3em">7,9-Dimethylhexadecane</text>
<text transform="translate(404.46 363.5) rotate(47.5)" dy="0.3em">Phytane</text>
<text transform="translate(388.79 376.43) rotate(53.45)" dy="0.3em">(6Z)-2,6-dimethylocta-2,6-diene</text>
<text transform="translate(371.87 387.66) rotate(59.4)" dy="0.3em">1-Octanol</text>
<text transform="translate(353.87 397.08) rotate(65.35)" dy="0.3em">3-Hexenal</text>
<text transform="translate(335 404.58) rotate(71.3)" dy="0.3em">Hexanal</text>
<text transform="translate(315.44 410.08) rotate(77.26)" dy="0.3em">(E)-2-Hexenal</text>
<text transform="translate(295.43 413.53) rotate(83.21)" dy="0.3em">(E,E)-2,4-Hexadienal</text>
<text transform="translate(275.16 414.88) rotate(89.16)" dy="0.3em">(E)-2-Heptenal</text>
<text transform="translate(254.86 414.12) rotate(275.11)" dy="0.3em" text-anchor="end">Octanal</text>
<text transform="translate(234.75 411.26) rotate(281.07)" dy="0.3em" text-anchor="end">Benzeneacetaldehyde</text>
<text transform="translate(215.05 406.33) rotate(287.02)" dy="0.3em" text-anchor="end">(E)-2-Octenal</text>
<text transform="translate(195.96 399.39) rotate(292.97)" dy="0.3em" text-anchor="end">2,3-Butanedione</text>
<text transform="translate(177.7 390.5) rotate(298.92)" dy="0.3em" text-anchor="end">2-Heptanone</text>
<text transform="translate(160.45 379.77) rotate(304.88)" dy="0.3em" text-anchor="end">5-Methylhex-4-en-3-one</text>
<text transform="translate(144.42 367.3) rotate(310.83)" dy="0.3em" text-anchor="end">2,6-Dimethyl-4-heptanone</text>
<text transform="translate(129.76 353.24) rotate(316.78)" dy="0.3em" text-anchor="end">4,6-Dimethylheptan-2-one</text>
<text transform="translate(116.64 337.74) rotate(322.73)" dy="0.3em" text-anchor="end">4,7,9-Megastigmatrien-3-one</text>
<text transform="translate(105.19 320.96) rotate(328.69)" dy="0.3em" text-anchor="end">Butyl acetate</text>
<text transform="translate(95.55 303.08) rotate(334.64)" dy="0.3em" text-anchor="end">Butyl butanoate</text>
<text transform="translate(87.82 284.3) rotate(340.59)" dy="0.3em" text-anchor="end">Ethyl heptanoate</text>
<text transform="translate(82.07 264.82) rotate(346.54)" dy="0.3em" text-anchor="end">Methyl octylate</text>
<text transform="translate(78.38 244.85) rotate(352.5)" dy="0.3em" text-anchor="end">Butyl hexanoate</text>
<text transform="translate(76.77 224.6) rotate(358.45)" dy="0.3em" text-anchor="end">Ethyl caprylate</text>
<text transform="translate(77.28 204.29) rotate(364.4)" dy="0.3em" text-anchor="end">Phenethyl acetate</text>
<text transform="translate(79.88 184.15) rotate(370.35)" dy="0.3em" text-anchor="end">Hexyl hexanoate</text>
<text transform="translate(84.57 164.39) rotate(376.3)" dy="0.3em" text-anchor="end">Benzylcarbinyl caproate</text>
<text transform="translate(91.27 145.21) rotate(382.26)" dy="0.3em" text-anchor="end">Theaspirane</text>
<text transform="translate(99.93 126.84) rotate(388.21)" dy="0.3em" text-anchor="end">Dihydro-β-ionone</text>
<text transform="translate(110.45 109.46) rotate(394.16)" dy="0.3em" text-anchor="end">Geranylacetone</text>
<text transform="translate(122.71 93.27) rotate(400.11)" dy="0.3em" text-anchor="end">β-Ionone</text>
<text transform="translate(136.59 78.44) rotate(406.07)" dy="0.3em" text-anchor="end">cis-α-Bergamotene</text>
<text transform="translate(151.93 65.13) rotate(412.02)" dy="0.3em" text-anchor="end">Farnesene</text>
<text transform="translate(168.57 53.47) rotate(417.97)" dy="0.3em" text-anchor="end">cis-Bisabolene</text>
<text transform="translate(186.32 43.61) rotate(423.92)" dy="0.3em" text-anchor="end">2-Ethylfuran</text>
</g>
<g font-family="'Liberation Serif', 'Times New Roman', serif" font-size="8.8" fill="#000">
<text transform="translate(265.56 198.91) rotate(-15.5)">DY-3</text>
<text transform="translate(255.84 169.53) rotate(-15.5)">DY-1</text>
<text transform="translate(246.12 140.14) rotate(-15.5)">DY-2</text>
<text transform="translate(236.4 110.76) rotate(-15.5)">DM-2</text>
<text transform="translate(226.68 81.37) rotate(-15.5)">DM-1</text>
<text transform="translate(216.97 51.99) rotate(-15.5)">DM-3</text>
</g>
<path d="M326.62 215.98A54.42 54.42 0 0 0 325.48 207.71M357.52 214.09A85.38 85.38 0 0 0 355.72 201.11M325.48 207.71L355.72 201.11M295.73 217.87A23.48 23.48 0 0 0 294.14 210.7M340.6 204.41A69.9 69.9 0 0 0 337.34 193.68M294.14 210.7L337.34 193.68M419.3 210.31A147.28 147.28 0 0 0 416.25 188.18M450.19 208.42A178.22 178.22 0 0 0 446.5 181.64M416.25 188.18L446.5 181.64M388.41 212.2A116.33 116.33 0 0 0 380.61 176.86M431.37 184.91A162.75 162.75 0 0 0 423.83 159.92M380.61 176.86L423.83 159.92M315.74 202.19A46.69 46.69 0 0 0 312.28 195.18M402.22 168.39A139.54 139.54 0 0 0 391.78 147.22M312.28 195.18L391.78 147.22" fill="none" stroke="#666" stroke-width="0.8"/>
<defs><linearGradient id="cb" x1="0" y1="1" x2="0" y2="0">
<stop offset="0" stop-color="#1669aa"/>
<stop offset="0.25" stop-color="#8ab6be"/>
<stop offset="0.5" stop-color="#fffdc2"/>
<stop offset="0.62" stop-color="#fad491"/>
<stop offset="0.75" stop-color="#ec984e"/>
<stop offset="1" stop-color="#d74e0c"/>
</linearGradient></defs>
<rect x="470.5" y="43" width="16" height="125.6" fill="url(#cb)"/>
<g stroke="#000" stroke-width="1" fill="none">
<path d="M486.5 42.5V169.1"/>
<path d="M486.5 43H489.6"/>
<path d="M486.5 58.7H489.6"/>
<path d="M486.5 74.4H489.6"/>
<path d="M486.5 90.1H489.6"/>
<path d="M486.5 105.8H489.6"/>
<path d="M486.5 121.5H489.6"/>
<path d="M486.5 137.2H489.6"/>
<path d="M486.5 152.9H489.6"/>
<path d="M486.5 168.6H489.6"/>
</g>
<g font-family="'Liberation Serif', 'Times New Roman', serif" font-size="12" fill="#000">
<text x="492.1" y="43" dy="0.36em">2.00</text>
<text x="492.1" y="58.7" dy="0.36em">1.50</text>
<text x="492.1" y="74.4" dy="0.36em">1.00</text>
<text x="492.1" y="90.1" dy="0.36em">0.50</text>
<text x="492.1" y="105.8" dy="0.36em">0.00</text>
<text x="492.1" y="121.5" dy="0.36em">−0.50</text>
<text x="492.1" y="137.2" dy="0.36em">−1.00</text>
<text x="492.1" y="152.9" dy="0.36em">−1.50</text>
<text x="492.1" y="168.6" dy="0.36em">−2.00</text>
</g>
</svg>
</body></html>
